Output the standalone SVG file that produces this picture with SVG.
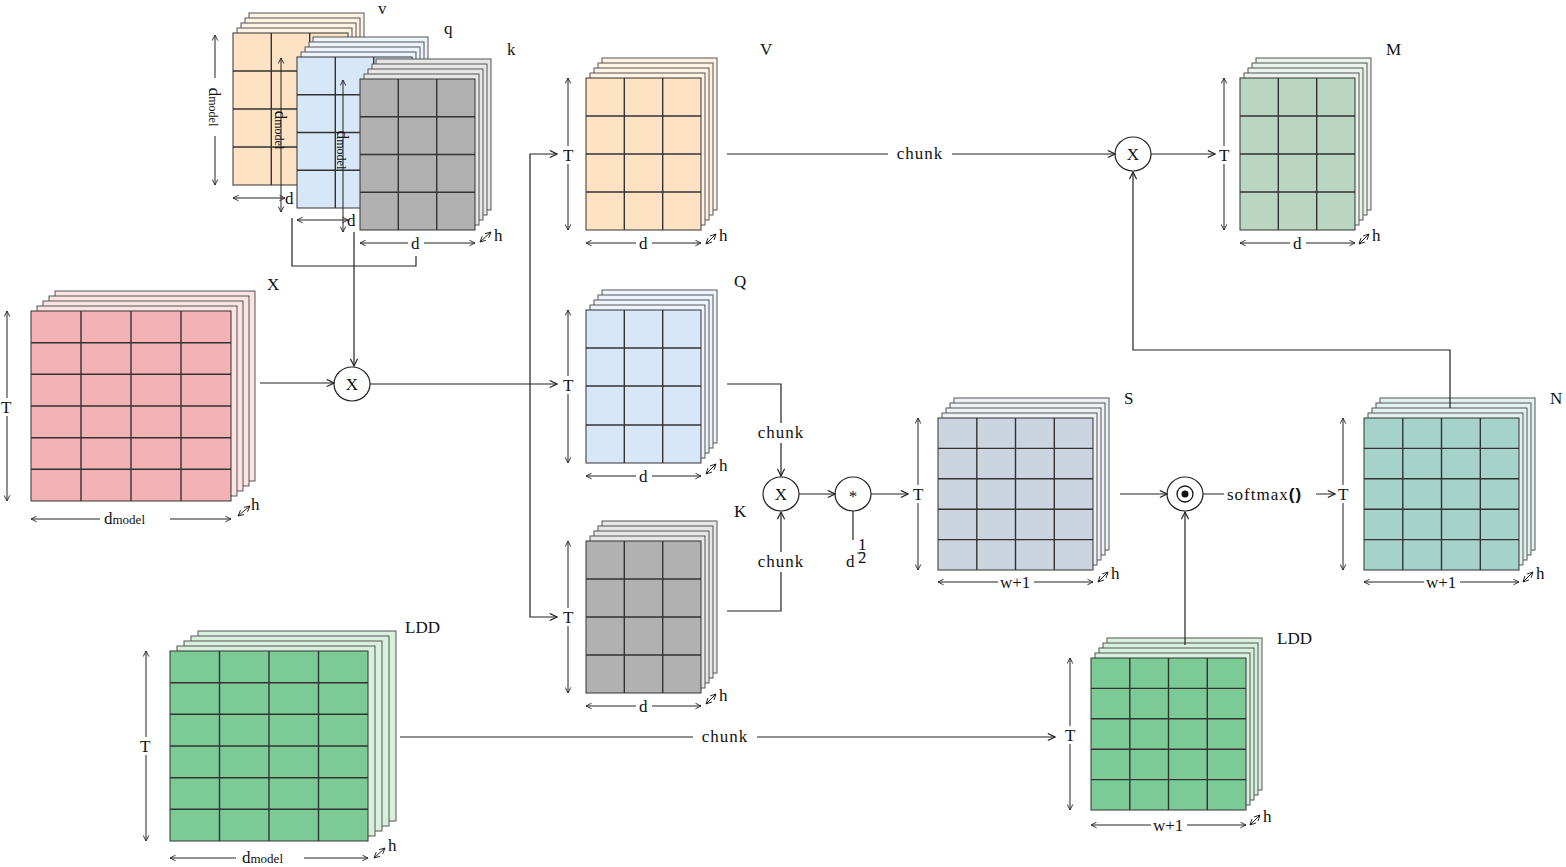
<svg xmlns="http://www.w3.org/2000/svg" width="1566" height="867" viewBox="0 0 1566 867">
<defs>
<marker id="a" viewBox="0 0 10 10" refX="9" refY="5" markerWidth="9" markerHeight="9" orient="auto-start-reverse" markerUnits="userSpaceOnUse"><path d="M1,1 L9,5 L1,9" fill="none" stroke="#222" stroke-width="1.3"/></marker>
<marker id="d" viewBox="0 0 10 10" refX="9" refY="5" markerWidth="7" markerHeight="7" orient="auto-start-reverse" markerUnits="userSpaceOnUse"><path d="M1,1 L9,5 L1,9" fill="none" stroke="#222" stroke-width="1.3"/></marker>
</defs>
<style>
text{font-family:"Liberation Serif","DejaVu Serif",serif;font-size:17px;fill:#111}
.b{stroke:#555;stroke-width:1}
.f{stroke:#333;stroke-width:1}
.g{fill:none;stroke:#333;stroke-width:1.4}
.c{fill:none;stroke:#222;stroke-width:1.2}
.dm{fill:none;stroke:#222;stroke-width:1;marker-start:url(#d);marker-end:url(#d)}
.op{fill:#fff;stroke:#222;stroke-width:1.2}
.or{fill:#fde3c4}.orb{fill:#fff3e4}
.bl{fill:#d8e7f8}.blb{fill:#eef4fc}
.gr{fill:#b1b1b1}.grb{fill:#e6e6e6}
.pk{fill:#f3b3b6}.pkb{fill:#fbe2e3}
.gn{fill:#7ccb97}.gnb{fill:#d8f1df}
.mg{fill:#bad6c3}.mgb{fill:#e9f3ec}
.sg{fill:#cbd4df}.sgb{fill:#eef1f5}
.ng{fill:#a6d3c9}.ngb{fill:#e3f1ee}
</style>

<g id="tensor-v">
<rect class="b orb" x="249" y="13" width="115" height="152"/><rect class="b orb" x="245" y="18" width="115" height="152"/><rect class="b orb" x="241" y="23" width="115" height="152"/><rect class="b orb" x="237" y="28" width="115" height="152"/>
<rect class="f or" x="233" y="33" width="115" height="152"/>
<path class="g" d="M271.3,33V185M309.7,33V185M233,71H348M233,109H348M233,147H348"/>
<text x="378" y="14">v</text>
<line class="dm" x1="215" y1="35" x2="215" y2="185"/><rect x="207" y="78" width="16" height="58" fill="#fff"/>
<text transform="translate(209,107) rotate(90)" text-anchor="middle">d<tspan font-size="12">model</tspan></text>
<line class="dm" x1="233" y1="198" x2="285" y2="198"/>
</g>
<g id="tensor-q">
<rect class="b blb" x="313" y="37" width="115" height="151"/><rect class="b blb" x="309" y="42" width="115" height="151"/><rect class="b blb" x="305" y="47" width="115" height="151"/><rect class="b blb" x="301" y="52" width="115" height="151"/>
<rect class="f bl" x="297" y="57" width="115" height="151"/>
<path class="g" d="M335.3,57V208M373.7,57V208M297,94.8H412M297,132.5H412M297,170.3H412"/>
<text x="444" y="34">q</text>
<line class="dm" x1="281" y1="58" x2="281" y2="212"/>
<text transform="translate(275,130) rotate(90)" text-anchor="middle">d<tspan font-size="12">model</tspan></text>
<text x="285" y="204">d</text>
<line class="dm" x1="297" y1="220" x2="348" y2="220"/>
</g>
<g id="tensor-k">
<rect class="b grb" x="376" y="59" width="115" height="151"/><rect class="b grb" x="372" y="64" width="115" height="151"/><rect class="b grb" x="368" y="69" width="115" height="151"/><rect class="b grb" x="364" y="74" width="115" height="151"/>
<rect class="f gr" x="360" y="79" width="115" height="151"/>
<path class="g" d="M398.3,79V230M436.7,79V230M360,116.8H475M360,154.5H475M360,192.3H475"/>
<text x="507" y="55">k</text>
<line class="dm" x1="343" y1="80" x2="343" y2="232"/>
<text transform="translate(337,150) rotate(90)" text-anchor="middle">d<tspan font-size="12">model</tspan></text>
<text x="347" y="226">d</text>
<line class="dm" x1="360" y1="243" x2="475" y2="243"/><rect x="408" y="234" width="16" height="16" fill="#fff"/><text x="411" y="249">d</text>
<line class="dm" x1="480" y1="242" x2="491" y2="232"/><text x="494" y="241">h</text>
</g>

<g id="tensor-X">
<rect class="b pkb" x="55" y="291" width="200" height="190"/><rect class="b pkb" x="49" y="296" width="200" height="190"/><rect class="b pkb" x="43" y="301" width="200" height="190"/><rect class="b pkb" x="37" y="306" width="200" height="190"/>
<rect class="f pk" x="31" y="311" width="200" height="190"/>
<path class="g" d="M81,311V501M131,311V501M181,311V501M31,342.7H231M31,374.3H231M31,406H231M31,437.7H231M31,469.3H231"/>
<text x="267" y="290">X</text>
<line class="dm" x1="7" y1="311" x2="7" y2="501"/><rect x="0" y="398" width="14" height="18" fill="#fff"/><text x="1" y="413">T</text>
<line class="dm" x1="31" y1="519" x2="231" y2="519"/><rect x="100" y="508" width="70" height="20" fill="#fff"/><text x="104" y="524">d<tspan font-size="13">model</tspan></text>
<line class="dm" x1="238" y1="516" x2="250" y2="506"/><text x="251" y="510">h</text>
</g>

<g id="tensor-V">
<rect class="b orb" x="602" y="58" width="115" height="152"/><rect class="b orb" x="598" y="63" width="115" height="152"/><rect class="b orb" x="594" y="68" width="115" height="152"/><rect class="b orb" x="590" y="73" width="115" height="152"/>
<rect class="f or" x="586" y="78" width="115" height="152"/>
<path class="g" d="M624.3,78V230M662.7,78V230M586,116H701M586,154H701M586,192H701"/>
<text x="760" y="55">V</text>
<line class="dm" x1="568" y1="78" x2="568" y2="230"/><rect x="561" y="146" width="14" height="18" fill="#fff"/><text x="563" y="161">T</text>
<line class="dm" x1="586" y1="243" x2="701" y2="243"/><rect x="636" y="234" width="16" height="16" fill="#fff"/><text x="639" y="249">d</text>
<line class="dm" x1="706" y1="244" x2="716" y2="234"/><text x="719" y="241">h</text>
</g>
<g id="tensor-Q">
<rect class="b blb" x="602" y="290" width="115" height="153"/><rect class="b blb" x="598" y="295" width="115" height="153"/><rect class="b blb" x="594" y="300" width="115" height="153"/><rect class="b blb" x="590" y="305" width="115" height="153"/>
<rect class="f bl" x="586" y="310" width="115" height="153"/>
<path class="g" d="M624.3,310V463M662.7,310V463M586,348H701M586,386H701M586,425H701"/>
<text x="734" y="287">Q</text>
<line class="dm" x1="568" y1="310" x2="568" y2="463"/><rect x="561" y="376" width="14" height="18" fill="#fff"/><text x="563" y="391">T</text>
<line class="dm" x1="586" y1="476" x2="701" y2="476"/><rect x="636" y="467" width="16" height="16" fill="#fff"/><text x="639" y="482">d</text>
<line class="dm" x1="706" y1="474" x2="716" y2="464"/><text x="719" y="471">h</text>
</g>
<g id="tensor-K">
<rect class="b grb" x="602" y="521" width="115" height="152"/><rect class="b grb" x="598" y="526" width="115" height="152"/><rect class="b grb" x="594" y="531" width="115" height="152"/><rect class="b grb" x="590" y="536" width="115" height="152"/>
<rect class="f gr" x="586" y="541" width="115" height="152"/>
<path class="g" d="M624.3,541V693M662.7,541V693M586,579H701M586,617H701M586,655H701"/>
<text x="734" y="517">K</text>
<line class="dm" x1="568" y1="541" x2="568" y2="693"/><rect x="561" y="608" width="14" height="18" fill="#fff"/><text x="563" y="623">T</text>
<line class="dm" x1="586" y1="706" x2="701" y2="706"/><rect x="636" y="697" width="16" height="16" fill="#fff"/><text x="639" y="712">d</text>
<line class="dm" x1="706" y1="704" x2="716" y2="694"/><text x="719" y="701">h</text>
</g>

<g id="tensor-M">
<rect class="b mgb" x="1256" y="58" width="115" height="152"/><rect class="b mgb" x="1252" y="63" width="115" height="152"/><rect class="b mgb" x="1248" y="68" width="115" height="152"/><rect class="b mgb" x="1244" y="73" width="115" height="152"/>
<rect class="f mg" x="1240" y="78" width="115" height="152"/>
<path class="g" d="M1278.3,78V230M1316.7,78V230M1240,116H1355M1240,154H1355M1240,192H1355"/>
<text x="1386" y="55">M</text>
<line class="dm" x1="1224" y1="78" x2="1224" y2="230"/><rect x="1217" y="146" width="14" height="18" fill="#fff"/><text x="1219" y="161">T</text>
<line class="dm" x1="1240" y1="243" x2="1355" y2="243"/><rect x="1290" y="234" width="16" height="16" fill="#fff"/><text x="1293" y="249">d</text>
<line class="dm" x1="1359" y1="244" x2="1369" y2="234"/><text x="1372" y="241">h</text>
</g>

<g id="tensor-S">
<rect class="b sgb" x="954" y="398" width="155" height="152"/><rect class="b sgb" x="950" y="403" width="155" height="152"/><rect class="b sgb" x="946" y="408" width="155" height="152"/><rect class="b sgb" x="942" y="413" width="155" height="152"/>
<rect class="f sg" x="938" y="418" width="155" height="152"/>
<path class="g" d="M976.8,418V570M1015.5,418V570M1054.3,418V570M938,448.4H1093M938,478.8H1093M938,509.2H1093M938,539.6H1093"/>
<text x="1124" y="404">S</text>
<line class="dm" x1="918" y1="418" x2="918" y2="570"/><rect x="911" y="485" width="14" height="18" fill="#fff"/><text x="913" y="500">T</text>
<line class="dm" x1="938" y1="582" x2="1093" y2="582"/><rect x="998" y="573" width="36" height="18" fill="#fff"/><text x="1000" y="588">w+1</text>
<line class="dm" x1="1098" y1="582" x2="1108" y2="572"/><text x="1111" y="579">h</text>
</g>

<g id="tensor-N">
<rect class="b ngb" x="1380" y="398" width="155" height="152"/><rect class="b ngb" x="1376" y="403" width="155" height="152"/><rect class="b ngb" x="1372" y="408" width="155" height="152"/><rect class="b ngb" x="1368" y="413" width="155" height="152"/>
<rect class="f ng" x="1364" y="418" width="155" height="152"/>
<path class="g" d="M1402.8,418V570M1441.5,418V570M1480.3,418V570M1364,448.4H1519M1364,478.8H1519M1364,509.2H1519M1364,539.6H1519"/>
<text x="1550" y="404">N</text>
<line class="dm" x1="1343" y1="418" x2="1343" y2="570"/><rect x="1336" y="485" width="14" height="18" fill="#fff"/><text x="1338" y="500">T</text>
<line class="dm" x1="1364" y1="582" x2="1519" y2="582"/><rect x="1424" y="573" width="36" height="18" fill="#fff"/><text x="1426" y="588">w+1</text>
<line class="dm" x1="1523" y1="582" x2="1533" y2="572"/><text x="1536" y="579">h</text>
</g>

<g id="tensor-LDD-right">
<rect class="b gnb" x="1107" y="638" width="155" height="152"/><rect class="b gnb" x="1103" y="643" width="155" height="152"/><rect class="b gnb" x="1099" y="648" width="155" height="152"/><rect class="b gnb" x="1095" y="653" width="155" height="152"/>
<rect class="f gn" x="1091" y="658" width="155" height="152"/>
<path class="g" d="M1129.8,658V810M1168.5,658V810M1207.3,658V810M1091,688.4H1246M1091,718.8H1246M1091,749.2H1246M1091,779.6H1246"/>
<text x="1277" y="644">LDD</text>
<line class="dm" x1="1070" y1="658" x2="1070" y2="810"/><rect x="1063" y="726" width="14" height="18" fill="#fff"/><text x="1065" y="741">T</text>
<line class="dm" x1="1091" y1="825" x2="1246" y2="825"/><rect x="1151" y="816" width="36" height="18" fill="#fff"/><text x="1153" y="831">w+1</text>
<line class="dm" x1="1250" y1="825" x2="1260" y2="815"/><text x="1263" y="822">h</text>
</g>

<g id="tensor-LDD-left">
<rect class="b gnb" x="198" y="631" width="198" height="190"/><rect class="b gnb" x="191" y="636" width="198" height="190"/><rect class="b gnb" x="184" y="641" width="198" height="190"/><rect class="b gnb" x="177" y="646" width="198" height="190"/>
<rect class="f gn" x="170" y="651" width="198" height="190"/>
<path class="g" d="M219.5,651V841M269,651V841M318.5,651V841M170,682.7H368M170,714.3H368M170,746H368M170,777.7H368M170,809.3H368"/>
<text x="405" y="633">LDD</text>
<line class="dm" x1="146" y1="651" x2="146" y2="841"/><rect x="139" y="737" width="14" height="18" fill="#fff"/><text x="140" y="752">T</text>
<line class="dm" x1="170" y1="858" x2="368" y2="858"/><rect x="236" y="847" width="68" height="20" fill="#fff"/><text x="242" y="863">d<tspan font-size="13">model</tspan></text>
<line class="dm" x1="374" y1="858" x2="385" y2="848"/><text x="388" y="851">h</text>
</g>

<g id="op-x1"><ellipse class="op" cx="352" cy="384" rx="18" ry="17"/><text x="352" y="390" text-anchor="middle" font-family="Liberation Sans,sans-serif">X</text></g>
<g id="op-x2"><ellipse class="op" cx="1133" cy="154" rx="18" ry="17"/><text x="1133" y="160" text-anchor="middle" font-family="Liberation Sans,sans-serif">X</text></g>
<g id="op-x3"><ellipse class="op" cx="781" cy="494" rx="18" ry="17"/><text x="781" y="500" text-anchor="middle" font-family="Liberation Sans,sans-serif">X</text></g>
<g id="op-star"><ellipse class="op" cx="853" cy="494" rx="18" ry="17"/><text x="853" y="502" text-anchor="middle" font-size="20">*</text></g>
<g id="op-dot"><ellipse class="op" cx="1185" cy="494" rx="18" ry="17"/><circle cx="1185" cy="494" r="8" fill="none" stroke="#111" stroke-width="1.3"/><circle cx="1185" cy="494" r="3.5" fill="#111"/></g>

<g id="connectors">
<path class="c" d="M292,218V266H416V256"/>
<path class="c" d="M354,232V366" marker-end="url(#a)"/>
<path class="c" d="M260,383H334" marker-end="url(#a)"/>
<path class="c" d="M370,384H557" marker-end="url(#a)"/>
<path class="c" d="M557,154H530V617H557" marker-start="url(#a)" marker-end="url(#a)"/>
<path class="c" d="M727,154H1115" marker-end="url(#a)"/>
<rect x="888" y="144" width="64" height="20" fill="#fff"/><text x="920" y="159" text-anchor="middle" letter-spacing="1">chunk</text>
<path class="c" d="M1151,154H1215" marker-end="url(#a)"/>
<path class="c" d="M1450,408V350H1133V172" marker-end="url(#a)"/>
<path class="c" d="M727,384H781V476" marker-end="url(#a)"/>
<rect x="750" y="423" width="62" height="20" fill="#fff"/><text x="781" y="438" text-anchor="middle" letter-spacing="1">chunk</text>
<path class="c" d="M727,611H781V512" marker-end="url(#a)"/>
<rect x="750" y="552" width="62" height="20" fill="#fff"/><text x="781" y="567" text-anchor="middle" letter-spacing="1">chunk</text>
<path class="c" d="M799,494H835" marker-end="url(#a)"/>
<path class="c" d="M871,494H908" marker-end="url(#a)"/>
<path class="c" d="M853,511V540"/>
<text x="846" y="567">d</text><text x="858" y="550" font-size="9">1</text><line x1="857" y1="553" x2="865" y2="553" stroke="#222" stroke-width="0.8"/><text x="858" y="563" font-size="9">2</text>
<path class="c" d="M1120,494H1167" marker-end="url(#a)"/>
<path class="c" d="M1203,494H1335" marker-end="url(#a)"/>
<rect x="1224" y="484" width="92" height="20" fill="#fff"/><text x="1227" y="500" letter-spacing="1">softmax<tspan font-family="Liberation Sans,sans-serif" font-weight="bold">()</tspan></text>
<path class="c" d="M1185,645V512" marker-end="url(#a)"/>
<path class="c" d="M400,737H1055" marker-end="url(#a)"/>
<rect x="693" y="727" width="64" height="20" fill="#fff"/><text x="725" y="742" text-anchor="middle" letter-spacing="1">chunk</text>
</g>
</svg>
